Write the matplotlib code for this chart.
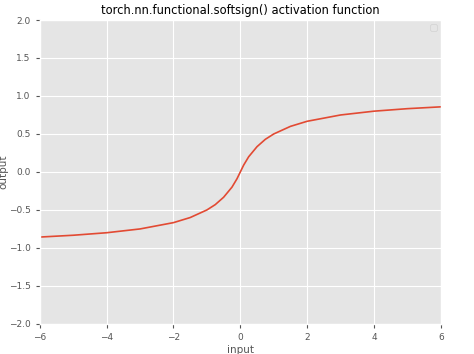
import matplotlib
matplotlib.use("Agg")
import matplotlib.pyplot as plt

# values
x_vals = [-6, -5, -4, -3, -2, -1.5, -1, -0.75, -0.5, -0.25, -0.1, 0,
          0.1, 0.25, 0.5, 0.75, 1, 1.5, 2, 3, 4, 5, 6]
y_vals = [-0.857, -0.833, -0.8, -0.75, -0.667, -0.6, -0.5, -0.43, -0.333, -0.2, -0.09, 0.0,
          0.09, 0.2, 0.333, 0.43, 0.5, 0.6, 0.667, 0.75, 0.8, 0.833, 0.857]

plt.style.use("ggplot")
fig, ax = plt.subplots(figsize=(4.74, 3.54), dpi=100)
ax.plot(x_vals, y_vals, color="#E24A33", linewidth=1.2)
ax.set_xlim(-6, 6)
ax.set_ylim(-2, 2)
ax.tick_params(labelsize=6.5, length=3)
ax.set_xlabel("input", fontsize=7.5, labelpad=2)
ax.set_ylabel("output", fontsize=7.5)
ax.yaxis.set_label_coords(-0.078, 0.5)
ax.set_title("torch.nn.functional.softsign() activation function", fontsize=8.3, pad=4)
ax.legend(handles=[], fontsize=6)
fig.subplots_adjust(left=0.084, right=0.930, top=0.9435, bottom=0.085)
fig.savefig("out.png")
